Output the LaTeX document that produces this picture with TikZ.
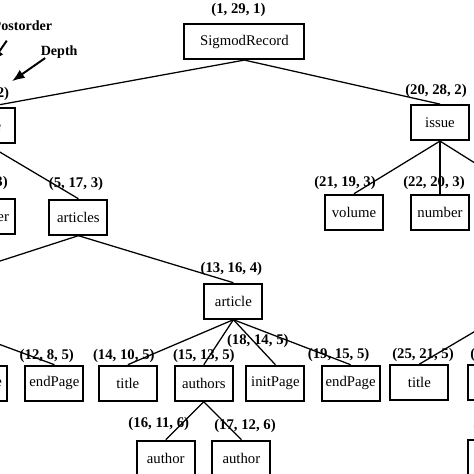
\documentclass[tikz,border=0pt]{standalone}
\usepackage{fontspec}
\setmainfont{Liberation Serif}
\usepackage{tikz}
\usetikzlibrary{shapes, arrows, arrows.meta, calc, positioning}
\tikzstyle{boxed} = [
    rectangle,
    minimum width = 1.45cm,
    minimum height = 0.875cm,
    inner sep = 2pt,
    text centered,
    draw = black,
    line width = 1.4pt,
    font = \fontsize{10.5pt}{12pt}\selectfont,
]
\tikzstyle{hidden} = [
    rectangle,
    minimum width = 1.45cm,
    minimum height = 0.875cm,
]
\tikzstyle{triple} = [
    node distance = 0.8cm,
    inner sep = 0pt,
    font = \fontsize{10.5pt}{12pt}\selectfont\bfseries,
]
\tikzstyle{annot} = [
    node distance = 0.8cm,
    inner sep = 1pt,
    font = \fontsize{10pt}{12pt}\selectfont\bfseries,
]
\tikzstyle{edge} = [line width = 0.9pt]
\tikzstyle{pointer} = [line width = 1.4pt, -{Latex[length = 9pt, width = 7pt]}]

\begin{document}
\begin{tikzpicture} [node distance = 2.1cm]
    \useasboundingbox (0, 0) rectangle (11.85, 11.85);
    \clip (0, 0) rectangle (11.85, 11.85);

    % tree
    \node (SigmodRecord) [boxed, minimum width = 3.0cm] at (6.11, 10.81) {SigmodRecord};
    \node (IssueA) [boxed, below of = SigmodRecord, xshift = -6.45cm] {issue};
    \node (IssueB) [boxed, below of = SigmodRecord, xshift = 4.89cm, yshift = 0.075cm] {issue};

    \node (NumberA) [boxed, below of = IssueA, yshift = -0.175cm] {number};
    \node (ArticlesA) [boxed, below of = IssueA, xshift = 2.3cm, yshift = -0.19cm] {articles};
    \node (VolumeB) [boxed, below of = IssueB, xshift = -2.15cm, yshift = -0.14cm] {volume};
    \node (NumberB) [boxed, below of = IssueB, yshift = -0.14cm] {number};
    \node (ArticlesB) [hidden, below of = IssueB, xshift = 2.2cm, yshift = -0.19cm] {};

    \node (ArticleA) [hidden, below of = ArticlesA, xshift = -3.69cm] {};
    \node (ArticleB) [boxed, below of = ArticlesA, xshift = 3.875cm] {article};
    \node (ArticleC) [hidden, below of = ArticlesB, xshift = -0.775cm, yshift = -0.06cm] {};

    \node (InitPageA) [boxed, below of = ArticleA, xshift = 1.175cm, yshift = 0.05cm] {initPage};
    \node (EndPageA) [boxed, below of = ArticleA, xshift = 3.09cm, yshift = 0.05cm] {endPage};
    \node (TitleB) [boxed, below of = ArticleB, xshift = -2.64cm, yshift = 0.05cm] {title};
    \node (AuthorsB) [boxed, below of = ArticleB, xshift = -0.74cm, yshift = 0.05cm] {authors};
    \node (InitPageB) [boxed, below of = ArticleB, xshift = 1.05cm, yshift = 0.05cm] {initPage};
    \node (EndPageB) [boxed, below of = ArticleB, xshift = 2.93cm, yshift = 0.05cm] {endPage};
    \node (TitleC) [boxed, below of = ArticleC, xshift = -1.94cm, yshift = 0.05cm] {title};
    \node (AuthorsC) [boxed, below of = ArticleC, yshift = 0.05cm] {authors};

    \node (AuthorB1) [boxed, below of = AuthorsB, xshift = -0.95cm, yshift = 0.225cm] {author};
    \node (AuthorB2) [boxed, below of = AuthorsB, xshift = 0.94cm, yshift = 0.225cm] {author};
    \node (AuthorC1) [boxed, below of = AuthorsC, yshift = 0.225cm] {author};

    % (preorder, postorder, depth)
    \node (LabSigmodRecord) [triple, above of = SigmodRecord, xshift = -0.15cm] {(1, 29, 1)};
    \node (LabIssueA) [triple, above of = IssueA, xshift = -0.11cm] {(2, 18, 2)};
    \node (LabIssueB) [triple, above of = IssueB, xshift = -0.1cm] {(20, 28, 2)};
    \node (LabNumberA) [triple, above of = NumberA, xshift = -0.05cm, yshift = 0.04cm] {(4, 2, 3)};
    \node (LabArticlesA) [triple, above of = ArticlesA, xshift = -0.06cm, yshift = 0.025cm] {(5, 17, 3)};
    \node (LabVolumeB) [triple, above of = VolumeB, xshift = -0.225cm, yshift = -0.075cm] {(21, 19, 3)};
    \node (LabNumberB) [triple, above of = NumberB, xshift = -0.15cm, yshift = -0.075cm] {(22, 20, 3)};
    \node (LabArticleB) [triple, above of = ArticleB, xshift = -0.05cm] {(13, 16, 4)};
    \node (LabInitPageA) [triple, above of = InitPageA, xshift = -0.1cm, yshift = -0.13cm] {(11, 7, 5)};
    \node (LabEndPageA) [triple, above of = EndPageA, xshift = -0.19cm, yshift = -0.13cm] {(12, 8, 5)};
    \node (LabTitleB) [triple, above of = TitleB, xshift = -0.1cm, yshift = -0.13cm] {(14, 10, 5)};
    \node (LabAuthorsB) [triple, above of = AuthorsB, yshift = -0.13cm] {(15, 13, 5)};
    \node (LabInitPageB) [triple, above of = InitPageB, xshift = -0.44cm, yshift = 0.26cm] {(18, 14, 5)};
    \node (LabEndPageB) [triple, above of = EndPageB, xshift = -0.3cm, yshift = -0.1cm] {(19, 15, 5)};
    \node (LabTitleC) [triple, above of = TitleC, xshift = 0.09cm, yshift = -0.1cm] {(25, 21, 5)};
    \node (LabAuthorsC) [triple, above of = AuthorsC, xshift = 0.1cm, yshift = -0.1cm] {(26, 24, 5)};
    \node (LabAuthorB1) [triple, above of = AuthorB1, xshift = -0.175cm, yshift = 0.06cm] {(16, 11, 6)};
    \node (LabAuthorB2) [triple, above of = AuthorB2, xshift = 0.09cm] {(17, 12, 6)};
    \node (LabAuthorC1) [triple, above of = AuthorC1, xshift = 0.175cm, yshift = -0.04cm] {(27, 22, 6)};

    % legend
    \node (Postorder) [annot, above of = LabIssueA, xshift = 1.01cm, yshift = 0.89cm] {Postorder};
    \node (Depth) [annot, above of = LabIssueA, xshift = 1.93cm, yshift = 0.24cm] {Depth};
    \coordinate (PostorderTip) at ($(Postorder) + (-0.76, -0.9)$);
    \coordinate (DepthTip) at ($(Depth) + (-1.18, -0.73)$);
    \draw[pointer] ($(Postorder.south) - (0.39, 0.2)$) -- (PostorderTip);
    \draw[pointer] ($(Depth.south west) + (0.15, 0.05)$) -- (DepthTip);

    % edges
    \draw[edge] (SigmodRecord.south) -- (IssueA.north);
    \draw[edge] (SigmodRecord.south) -- (IssueB.north);
    \draw[edge] (IssueA.south) -- (ArticlesA.north);
    \draw[edge] (IssueB.south) -- (VolumeB.north);
    \draw[edge] (IssueB.south) -- (NumberB.north);
    \draw[edge] (IssueB.south) -- (ArticlesB.north);
    \draw[edge] (ArticlesA.south) -- (ArticleA.north);
    \draw[edge] (ArticlesA.south) -- (ArticleB.north);
    \draw[edge] (ArticleA.south) -- (EndPageA.north);
    \draw[edge] (ArticleB.south) -- (TitleB.north);
    \draw[edge] (ArticleB.south) -- (AuthorsB.north);
    \draw[edge] (ArticleB.south) -- (InitPageB.north);
    \draw[edge] (ArticleB.south) -- (EndPageB.north);
    \draw[edge] (ArticleC.south) -- (TitleC.north);
    \draw[edge] (AuthorsB.south) -- (AuthorB1.north);
    \draw[edge] (AuthorsB.south) -- (AuthorB2.north);
\end{tikzpicture}
\end{document}
